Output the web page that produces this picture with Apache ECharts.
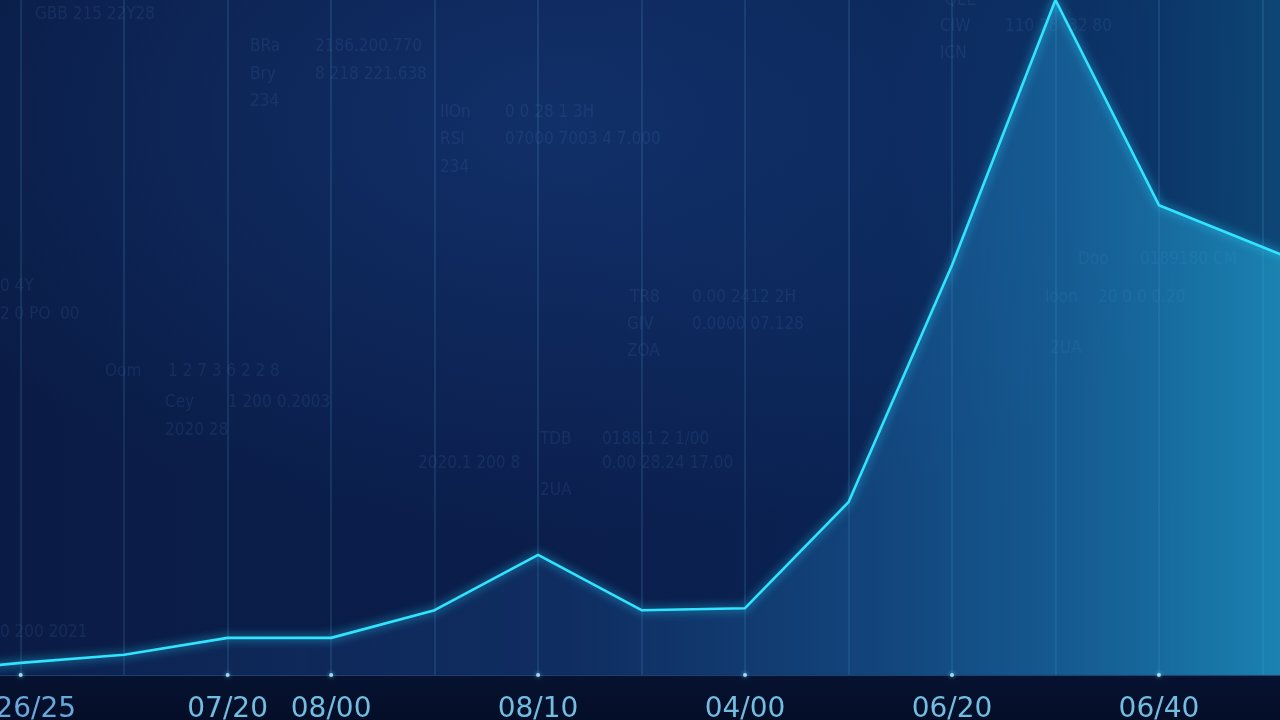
<!DOCTYPE html>
<html>
<head>
<meta charset="utf-8">
<script src="https://cdn.jsdelivr.net/npm/echarts@6/dist/echarts.min.js"></script>
<style>
html,body{margin:0;padding:0;width:1280px;height:720px;overflow:hidden;}
#bg{position:absolute;left:0;top:0;width:1280px;height:720px;
background:
 linear-gradient(to bottom, rgba(0,0,0,0) 0px, rgba(0,0,0,0) 674px, #061230 676px, #050e28 720px),
 radial-gradient(ellipse 700px 420px at 560px 120px, rgba(25,70,140,0.45), rgba(0,0,0,0)),
 linear-gradient(to right, #0a1c46 0%, #0b1e4c 45%, #0a2353 70%, #0b3466 90%, #0d4676 100%);}
#chart{position:absolute;left:0;top:0;width:1280px;height:720px;}
</style>
</head>
<body>
<div id="bg"></div>
<div id="chart"></div>
<script>
// category positions (index -1 .. 13; the ends run off the frame)
const positions = [-1, 0, 1, 2, 3, 4, 5, 6, 7, 8, 9, 10, 11, 12, 13];
// series values (relative height, 0..100)
const values = [0.3, 1.8, 3.0, 5.5, 5.5, 9.6, 17.8, 9.6, 9.9, 25.6, 60.7, 100, 69.6, 63.4, 57.2];
// tick labels and the category index each sits on
const tickLabels = ['26/25', '07/20', '08/00', '08/10', '04/00', '06/20', '06/40'];
const tickIndex = [0, 2, 3, 5, 7, 9, 11];
// vertical guide positions
const guideIndex = [0, 1, 2, 3, 4, 5, 6, 7, 8, 9, 10, 11, 12];
// faint background readouts
const bgTexts = [
  ['GBB 215 22Y28', 35, 6], ['BRa', 250, 38], ['2186.200.770', 315, 38],
  ['Bry', 250, 66], ['8 218 221.638', 315, 66], ['234', 250, 93],
  ['IIOn', 440, 104], ['0 0 28 1 3H', 505, 104], ['RSI', 440, 131], ['07000 7003 4 7.000', 505, 131], ['234', 440, 159],
  ['Oom', 105, 363], ['1 2 7 3 6 2 2 8', 168, 363], ['Cey', 165, 394], ['1 200 0.2003', 228, 394], ['2020 28', 165, 422],
  ['TR8', 630, 289], ['0.00 2412 2H', 692, 289], ['GIV', 627, 316], ['0.0000 07.128', 692, 316], ['ZOA', 627, 343],
  ['TDB', 540, 431], ['0188.1 2 1/00', 602, 431], ['2020.1 200 8', 418, 455], ['0.00 28.24 17.00', 602, 455], ['2UA', 540, 482],
  ['QEE', 945, -8], ['CIW', 940, 18], ['110 28  32 80', 1005, 18], ['ICN', 940, 45],
  ['Doo', 1078, 251], ['0189180 CM', 1140, 251], ['Ioon', 1045, 289], ['20 0 0 0.20', 1098, 289], ['2UA', 1050, 340],
  ['0 4Y', 0, 278], ['2 0 PO  00', 0, 306], ['0 200 2021', 0, 624]
];

const chart = echarts.init(document.getElementById('chart'), null, {renderer: 'canvas'});
const lineData = positions.map((p, i) => [p, values[i]]);
const dotData = tickIndex.map(i => [i, 0]);
const labelMap = {};
tickIndex.forEach((i, k) => { labelMap[i] = tickLabels[k]; });

chart.setOption({
  backgroundColor: 'transparent',
  animation: false,
  grid: {left: 0, right: 0, top: 0, bottom: 45, containLabel: false, outerBoundsMode: 'none'},
  xAxis: {
    type: 'value', min: -0.2, max: 12.17,
    axisLine: {show: true, lineStyle: {color: 'rgba(70,150,210,0.35)', width: 1}},
    axisTick: {show: false, customValues: guideIndex},
    axisLabel: {customValues: tickIndex,
      formatter: v => { const i = Math.round(v); const s = labelMap[i] || ''; return i === 0 ? '{first|' + s + '}' : s; },
      rich: {first: {padding: [0, 0, 0, 30], color: '#6aa8dc', fontSize: 28, fontFamily: 'DejaVu Sans'}},
      color: '#72bde0', fontSize: 28, fontFamily: 'DejaVu Sans', margin: 21},
    splitLine: {show: true, lineStyle: {color: 'rgba(100,185,240,0.19)', width: 1.5}}
  },
  yAxis: {type: 'value', min: 0, max: 100, show: false, splitLine: {show: false}},
  graphic: bgTexts.map(t => ({
    type: 'text', left: t[1], top: t[2], silent: true, z: -10,
    style: {text: t[0], fill: 'rgba(90,150,220,0.13)', font: '17px "DejaVu Sans Condensed", "DejaVu Sans"'}
  })),
  series: [
    {
      type: 'line', data: lineData, symbol: 'none', smooth: false, z: 3,
      lineStyle: {color: '#30e4ff', width: 2.6, shadowColor: 'rgba(40,220,255,0.9)', shadowBlur: 10},
      areaStyle: {
        color: {type: 'linear', x: 0, y: 0, x2: 1, y2: 0, colorStops: [
          {offset: 0, color: 'rgba(40,100,180,0.12)'},
          {offset: 0.45, color: 'rgba(40,120,200,0.25)'},
          {offset: 0.62, color: 'rgba(35,130,200,0.45)'},
          {offset: 0.8, color: 'rgba(35,148,208,0.64)'},
          {offset: 1, color: 'rgba(40,190,228,0.88)'}
        ]}
      }
    },
    {
      type: 'scatter', data: dotData, symbol: 'circle', symbolSize: 4, z: 5, clip: false,
      itemStyle: {color: '#c8f4ff', shadowColor: '#5fe0ff', shadowBlur: 4}
    }
  ]
});
</script>
</body>
</html>
